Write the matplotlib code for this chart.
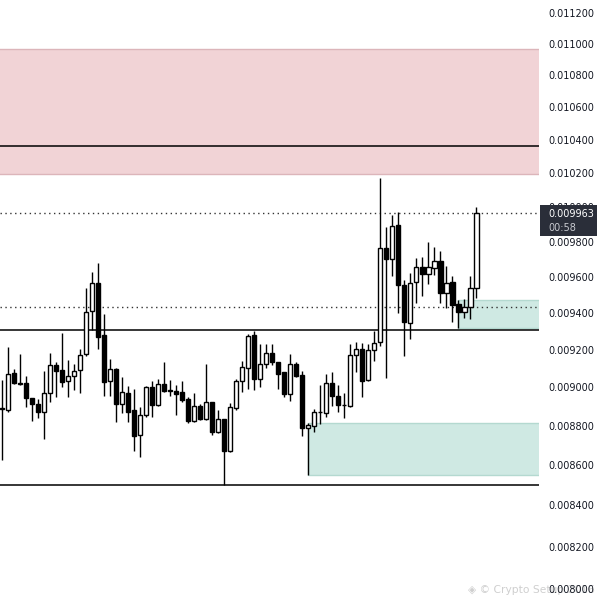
import matplotlib
matplotlib.use("Agg")
import matplotlib.pyplot as plt
from matplotlib.patches import Rectangle
import numpy as np

# ---- OHLC data (price values) ----
opens = [0.008894, 0.008882, 0.009076, 0.009021, 0.009021, 0.008943, 0.008911, 0.008873, 0.008972, 0.009117,
         0.009090, 0.009034, 0.009059, 0.009090, 0.009176, 0.009409, 0.009565, 0.009278, 0.009034, 0.009097,
         0.008915, 0.008969, 0.008880, 0.008751, 0.008854, 0.009002, 0.008906, 0.009016, 0.008984, 0.008981,
         0.008974, 0.008939, 0.008826, 0.008903, 0.008833, 0.008923, 0.008770, 0.008835, 0.008673, 0.008891,
         0.009032, 0.009101, 0.009280, 0.009046, 0.009122, 0.009181, 0.009133, 0.009081, 0.008967, 0.009122,
         0.009064, 0.008790, 0.008800, 0.008870, 0.008868, 0.009021, 0.008953, 0.008906, 0.008904, 0.009170,
         0.009202, 0.009037, 0.009197, 0.009240, 0.009762, 0.009700, 0.009896, 0.009555, 0.009343, 0.009570,
         0.009654, 0.009618, 0.009649, 0.009690, 0.009509, 0.009570, 0.009448, 0.009403, 0.009431, 0.009537]
highs = [0.009039, 0.009215, 0.009097, 0.009177, 0.009060, 0.008945, 0.008939, 0.009087, 0.009182, 0.009135,
         0.009291, 0.009145, 0.009124, 0.009205, 0.009540, 0.009626, 0.009677, 0.009392, 0.009149, 0.009101,
         0.009055, 0.009009, 0.008991, 0.008897, 0.009007, 0.009034, 0.009045, 0.009135, 0.009039, 0.009011,
         0.009034, 0.008948, 0.008969, 0.008913, 0.009124, 0.008925, 0.008882, 0.008836, 0.008918, 0.009044,
         0.009140, 0.009284, 0.009302, 0.009231, 0.009231, 0.009231, 0.009135, 0.009082, 0.009177, 0.009136,
         0.009087, 0.008813, 0.008887, 0.009012, 0.009071, 0.009081, 0.009012, 0.008969, 0.009231, 0.009240,
         0.009235, 0.009231, 0.009303, 0.010170, 0.009883, 0.009954, 0.009970, 0.009583, 0.009620, 0.009705,
         0.009711, 0.009798, 0.009768, 0.009747, 0.009662, 0.009605, 0.009472, 0.009477, 0.009605, 0.009999]
lows = [0.008625, 0.008871, 0.009018, 0.009012, 0.008897, 0.008824, 0.008840, 0.008734, 0.008923, 0.008951,
        0.009002, 0.008951, 0.008986, 0.008972, 0.009166, 0.009307, 0.009202, 0.008956, 0.008956, 0.008821,
        0.008865, 0.008818, 0.008673, 0.008639, 0.008844, 0.008844, 0.008902, 0.008976, 0.008956, 0.008856,
        0.008922, 0.008813, 0.008818, 0.008830, 0.008830, 0.008753, 0.008764, 0.008500, 0.008665, 0.008882,
        0.008977, 0.008991, 0.008986, 0.009000, 0.009103, 0.009119, 0.008991, 0.008951, 0.008930, 0.009055,
        0.008749, 0.008550, 0.008770, 0.008809, 0.008847, 0.008903, 0.008873, 0.008839, 0.008896, 0.009083,
        0.008951, 0.009034, 0.009142, 0.009222, 0.009051, 0.009605, 0.009398, 0.009168, 0.009256, 0.009457,
        0.009496, 0.009561, 0.009611, 0.009457, 0.009426, 0.009352, 0.009319, 0.009374, 0.009365, 0.009481]
closes = [0.008885, 0.009069, 0.009023, 0.009019, 0.008943, 0.008911, 0.008873, 0.008972, 0.009117, 0.009088,
          0.009030, 0.009059, 0.009085, 0.009170, 0.009403, 0.009565, 0.009271, 0.009030, 0.009096, 0.008911,
          0.008974, 0.008873, 0.008749, 0.008854, 0.009002, 0.008906, 0.009015, 0.008982, 0.008983, 0.008967,
          0.008934, 0.008826, 0.008903, 0.008833, 0.008922, 0.008770, 0.008833, 0.008673, 0.008896, 0.009032,
          0.009106, 0.009274, 0.009046, 0.009122, 0.009181, 0.009133, 0.009072, 0.008965, 0.009122, 0.009062,
          0.008790, 0.008802, 0.008870, 0.008871, 0.009021, 0.008956, 0.008909, 0.008907, 0.009170, 0.009202,
          0.009035, 0.009197, 0.009235, 0.009762, 0.009700, 0.009889, 0.009555, 0.009349, 0.009565, 0.009654,
          0.009618, 0.009654, 0.009690, 0.009512, 0.009565, 0.009444, 0.009403, 0.009431, 0.009537, 0.009963]

# ---- levels & zones ----
resist_zone = (0.010194, 0.010967)
resist_line = 0.010362
support_lines = [0.009307, 0.008500]
dotted_levels = [0.009963, 0.009431]
demand_zones = [(51, 0.008550, 0.008812), (76, 0.009316, 0.009472)]  # (start candle, low, high)

tick_values = [0.0112, 0.0110, 0.0108, 0.0106, 0.0104, 0.0102, 0.0100, 0.0098, 0.0096,
               0.0094, 0.0092, 0.0090, 0.0088, 0.0086, 0.0084, 0.0082, 0.0080]
tick_labels = [f"{v:.6f}" for v in tick_values]
last_price_label = "0.009963"
countdown_label = "00:58"
watermark = "\u25c8 \u00a9 Crypto Setup 2016"

W = H = 607
fig = plt.figure(figsize=(W / 100, H / 100), dpi=100)
fig.patch.set_facecolor("white")

# watermark (behind everything)
fig.text(468 / W, 1 - 590 / H, watermark, color="#cfcfcf", fontsize=7.7,
         va="center", ha="left", zorder=-1)

ax = fig.add_axes([0, 0, 539 / W, 1])
ax.set_facecolor("none")
ax.set_yscale("log")
ax.set_ylim(0.0079152, 0.011287)
x_right = 89.44
ax.set_xlim(-0.333, x_right)

x = np.arange(len(opens))

# resistance zone
ax.add_patch(Rectangle((-1, resist_zone[0]), x_right + 2, resist_zone[1] - resist_zone[0],
                       facecolor="#f1d3d6", edgecolor="#dcb5ba", linewidth=1, zorder=0))
ax.axhline(resist_line, color="black", lw=1.1, zorder=1)

# demand zones
for start, lo, hi in demand_zones:
    ax.add_patch(Rectangle((x[start], lo), x_right - x[start] + 1, hi - lo,
                           facecolor="#cfe9e3", edgecolor="#b4d9d0", linewidth=1, zorder=0))

for lv in support_lines:
    ax.axhline(lv, color="black", lw=1.1, zorder=1)
for lv in dotted_levels:
    ax.axhline(lv, color="#333333", lw=1.0, linestyle=(0, (1, 2.5)), zorder=1)

# candles
o = np.array(opens); c = np.array(closes)
ax.vlines(x, lows, highs, color="black", lw=1.0, zorder=2)
up = c >= o
bottoms = np.minimum(o, c)
heights = np.maximum(np.abs(c - o), 1e-7)
ax.bar(x[up], heights[up], bottom=bottoms[up], width=0.74, color="white",
       edgecolor="black", linewidth=1.0, zorder=3)
ax.bar(x[~up], heights[~up], bottom=bottoms[~up], width=0.74, color="black",
       edgecolor="black", linewidth=1.0, zorder=3)

# axes styling
for s in ax.spines.values():
    s.set_visible(False)
ax.set_xticks([])
ax.yaxis.tick_right()
ax.set_yticks(tick_values)
ax.set_yticklabels(tick_labels)
ax.yaxis.set_minor_locator(matplotlib.ticker.NullLocator())
ax.tick_params(axis="y", length=0, pad=6.5, labelsize=7, labelcolor="#131722")

# last price tag
fig.add_artist(Rectangle((540 / W, 1 - 236 / H), 57 / W, 31 / H, transform=fig.transFigure,
                         facecolor="#2a2e39", edgecolor="none", zorder=5))
fig.text(548 / W, 1 - 214 / H, last_price_label, color="white", fontsize=7,
         va="center", ha="left", zorder=6)
fig.text(548 / W, 1 - 228 / H, countdown_label, color="#c8cad0", fontsize=7,
         va="center", ha="left", zorder=6)

fig.savefig("out.png", dpi=100, facecolor="white")
